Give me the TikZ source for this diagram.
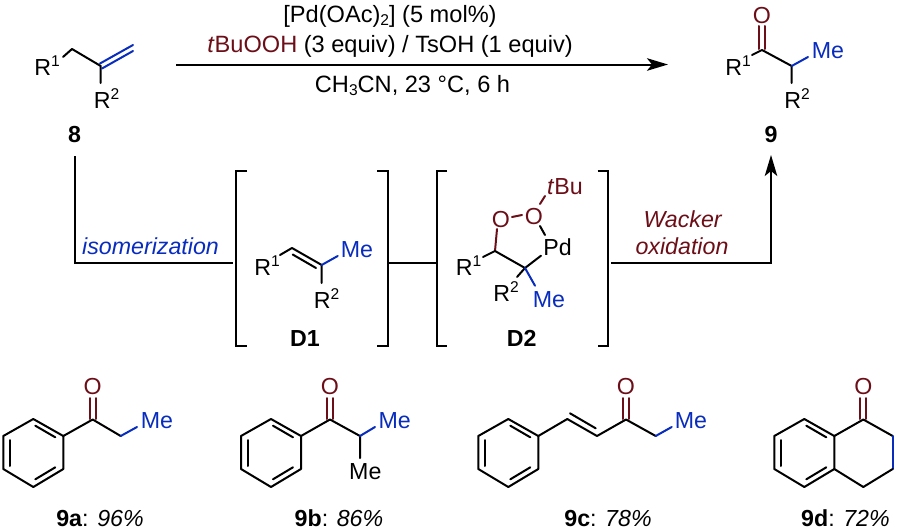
\documentclass[tikz,border=0pt]{standalone}
\usepackage{fontspec}
\setmainfont{Liberation Sans}
\usetikzlibrary{arrows.meta}
\definecolor{wine}{RGB}{108,14,24}
\definecolor{hblue}{RGB}{8,44,190}
\tikzset{
  txt/.style={inner sep=0pt,anchor=base,font=\fontsize{23.2}{28}\selectfont},
  cond/.style={inner sep=0pt,anchor=base,font=\fontsize{23.6}{28}\selectfont},
  bond/.style={line width=2pt,line cap=round,line join=round},
  conn/.style={line width=2pt,line join=miter},
  brack/.style={line width=1.9pt,line join=miter},
  tip/.style={-{Stealth[length=21pt,width=12.5pt,inset=5pt]}}
}
\newcommand{\supr}[1]{\raisebox{9pt}{\fontsize{15.6}{16}\selectfont #1}}
\newcommand{\subr}[1]{\raisebox{-3.5pt}{\fontsize{15.6}{16}\selectfont #1}}
\newcommand{\Rone}{R\supr{1}}
\newcommand{\Rtwo}{R\supr{2}}
\begin{document}
\begin{tikzpicture}[x=1pt,y=-1pt]
\useasboundingbox (0,0) rectangle (897,530);

% conditions
\coordinate (arrowL) at (176,64.5);
\coordinate (arrowR) at (668,64.5);
\draw[conn,tip] (arrowL) -- (arrowR);
\node[cond] (cond1) at (390,22) {[Pd(OAc)\subr{2}] (5 mol\%)};
\node[cond] (cond2) at (390,52.5) {\textcolor{wine}{\textit{t}BuOOH} (3 equiv) / TsOH (1 equiv)};
\node[cond] (cond3) at (412.5,92) {CH\subr{3}CN, 23 °C, 6 h};

% substrate 8
\node[txt] (r8a) at (47,75) {\Rone};
\node[txt] (r8b) at (106.7,108) {\Rtwo};
\node[txt] (lab8) at (74.5,142) {\textbf{8}};
\draw[bond] (63,57) -- (72,49) -- (100.7,66) -- (100.7,83);
\draw[bond,hblue] (100,63.5) -- (133,45);
\draw[bond,hblue] (102,68.5) -- (133,51);

% product 9
\node[txt,text=wine] (o9) at (762,23.5) {O};
\node[txt] (r9a) at (738,75) {\Rone};
\node[txt] (r9b) at (797,108) {\Rtwo};
\node[txt,text=hblue] (me9) at (828,58) {Me};
\node[txt] (lab9) at (771,142) {\textbf{9}};
\draw[bond,wine] (759.3,26) -- (759.3,49);
\draw[bond,wine] (765,26) -- (765,49);
\draw[bond] (752,55) -- (762,50) -- (791.7,66) -- (791.7,83);
\draw[bond,hblue] (791.7,66) -- (808,57);

% brackets
\draw[brack] (247,171) -- (236,171) -- (236,346) -- (247,346);
\draw[brack] (377,171) -- (388,171) -- (388,346) -- (377,346);
\draw[brack] (447,171) -- (436.7,171) -- (436.7,346) -- (447,346);
\draw[brack] (597.7,171) -- (608,171) -- (608,346) -- (597.7,346);

% pathway
\coordinate (start8) at (74.5,156);
\coordinate (corner8) at (74.5,263);
\coordinate (d1L) at (233,263);
\coordinate (d1R) at (388,263);
\coordinate (d2L) at (436.7,263);
\coordinate (d2R) at (611,263);
\coordinate (corner9) at (771,263);
\coordinate (end9) at (771,155);
\draw[conn] (start8) -- (corner8) -- (d1L);
\draw[conn] (d1R) -- (d2L);
\draw[conn,tip] (d2R) -- (corner9) -- (end9);
\node[txt,text=hblue] (iso) at (150.5,254) {\textit{isomerization}};
\node[txt,text=wine] (wack1) at (683,227) {\textit{Wacker}};
\node[txt,text=wine] (wack2) at (682,254) {\textit{oxidation}};

% D1
\node[txt] (r1a) at (267,275) {\Rone};
\node[txt] (r1b) at (326.7,308) {\Rtwo};
\node[txt,text=hblue] (me1) at (357,257.7) {Me};
\node[txt] (labD1) at (305,346.7) {\textbf{D1}};
\draw[bond] (280,255) -- (292,248) -- (321.7,265) -- (321.7,283);
\draw[bond] (292.7,254.5) -- (316,268);
\draw[bond,hblue] (321.7,265) -- (337.7,256);

% D2
\node[txt,text=wine] (o2a) at (501,227.7) {O};
\node[txt,text=wine] (o2b) at (534,224) {O};
\node[txt,text=wine] (tbu) at (565,194) {\textit{t}Bu};
\node[txt] (pd) at (557.5,255.7) {Pd};
\node[txt] (r2a) at (468.7,275) {\Rone};
\node[txt] (r2b) at (506,301.7) {\Rtwo};
\node[txt,text=hblue] (me2) at (549,307.3) {Me};
\node[txt] (labD2) at (521.7,346.7) {\textbf{D2}};
\draw[bond,wine] (512,217) -- (522,215);
\draw[bond,wine] (540,204) -- (545,196);
\draw[bond] (540,226) -- (545,235);
\draw[bond,wine] (497,229) -- (495,251);
\draw[bond] (483,257) -- (495,251) -- (525,268) -- (541,255.7);
\draw[bond] (525,268) -- (517,277);
\draw[bond,hblue] (525,268) -- (535,285.7);

% products
\foreach \bx in {33.3,271,508.3,804.3} {
  \draw[bond] (\bx,419) -- (\bx+30,436) -- (\bx+30,469) -- (\bx,487)
    -- (\bx-30,469) -- (\bx-30,436) -- cycle;
  \draw[bond] (\bx+2,425.7) -- (\bx+22,437.3);
  \draw[bond] (\bx+22,467.3) -- (\bx+2,479.3);
  \draw[bond] (\bx-23,440) -- (\bx-23,466);
}
\foreach \cx/\cname in {92.7/a,330/b,626/c,863.3/d} {
  \node[txt,text=wine] (o\cname) at (\cx,394.3) {O};
  \draw[bond,wine] (\cx-3,398) -- (\cx-3,419);
  \draw[bond,wine] (\cx+3,398) -- (\cx+3,419);
}
% 9a
\draw[bond] (63.3,436) -- (92.7,419.5) -- (120.7,436);
\draw[bond,hblue] (120.7,436) -- (137,427);
\node[txt,text=hblue] (mea) at (157,428) {Me};
\node[txt] (laba) at (100,526.7) {\textbf{9a}: \textit{96\%}};
% 9b
\draw[bond] (301,436) -- (330,419.5) -- (360,436) -- (360,458);
\draw[bond,hblue] (360,436) -- (375,427);
\node[txt,text=hblue] (meb) at (394.7,428) {Me};
\node[txt] (mebb) at (365.3,479) {Me};
\node[txt] (labb) at (339,526.7) {\textbf{9b}: \textit{86\%}};
% 9c
\draw[bond] (538.3,436) -- (567.3,419) -- (597,436) -- (626,419.5) -- (655.7,436);
\draw[bond] (570,413.3) -- (595.7,428.3);
\draw[bond,hblue] (655.7,436) -- (671.7,427);
\node[txt,text=hblue] (mec) at (691,428) {Me};
\node[txt] (labc) at (608,526.7) {\textbf{9c}: \textit{78\%}};
% 9d
\draw[bond] (834.3,436) -- (863.3,419.5) -- (892.7,436);
\draw[bond,hblue] (892.7,436) -- (892.7,469);
\draw[bond] (892.7,469) -- (863.3,487) -- (834.3,469);
\node[txt] (labd) at (845.5,526.7) {\textbf{9d}: \textit{72\%}};
\end{tikzpicture}
\end{document}
